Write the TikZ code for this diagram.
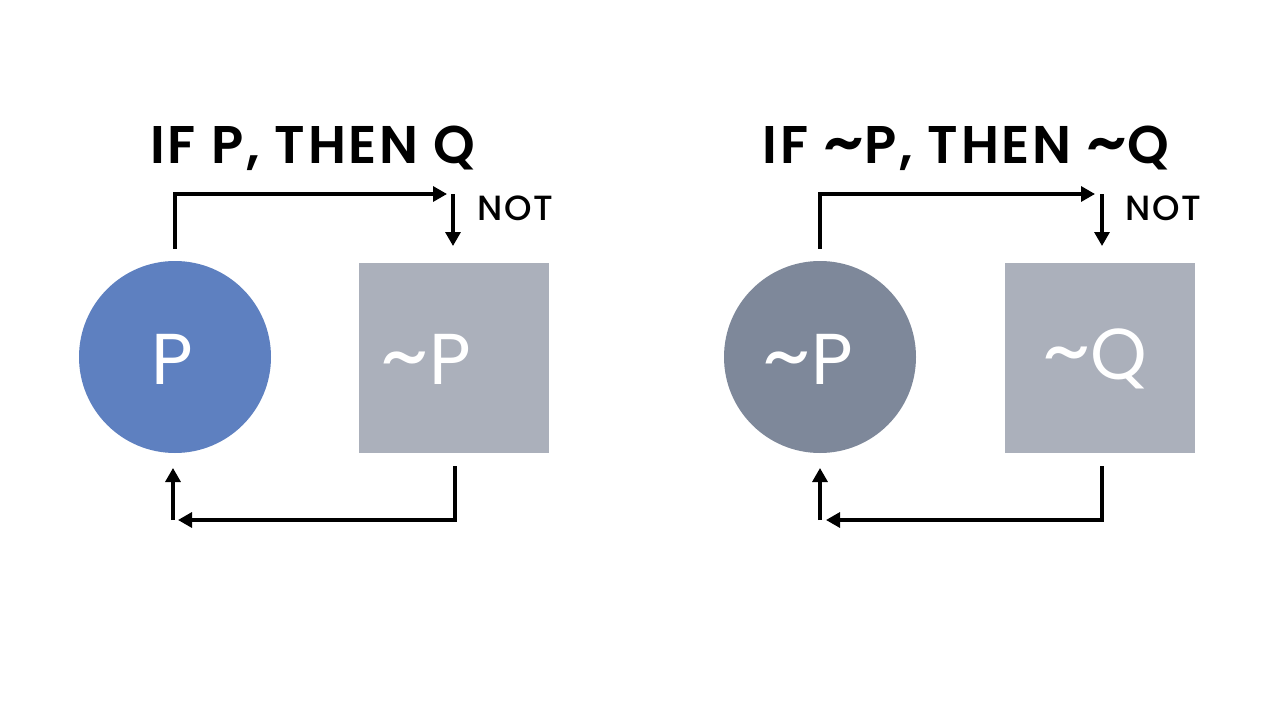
\documentclass[tikz,border=0pt]{standalone}
\usepackage{fontspec}
\usepackage{graphicx}
\setmainfont{Poppins}
\newfontfamily\titlefont{Poppins SemiBold}[LetterSpace=5]
\newfontfamily\notfont{Poppins Medium}[LetterSpace=4]
\usetikzlibrary{arrows.meta}
\definecolor{pblue}{RGB}{94,128,192}
\definecolor{pdark}{RGB}{126,136,154}
\definecolor{pbox}{RGB}{171,176,187}
\newcommand{\tld}{\scalebox{1.3}[1.15]{\textasciitilde}}
\begin{document}
\begin{tikzpicture}[x=1pt,y=-1pt,
  conn/.style={line width=3.2pt,-{Triangle[length=14pt,width=15pt]}},
  circ/.style={circle,inner sep=0pt,minimum size=192pt},
  sq/.style={rectangle,inner sep=0pt,minimum size=190pt,fill=pbox},
  lbl/.style={text=white,font=\fontsize{72}{80}\selectfont},
  ttl/.style={font=\titlefont\fontsize{53}{58}\selectfont},
  nottxt/.style={font=\notfont\fontsize{35}{40}\selectfont,anchor=west}]
\useasboundingbox (0,0) rectangle (1280,720);
\fill[white] (0,0) rectangle (1280,720);
% left
\node[ttl] (t1) at (313,148) {IF P, THEN Q};
\node[circ,fill=pblue] (c1) at (175,357) {};
\node[lbl] (l1) at (172,359) {P};
\node[sq] (s1) at (454,358) {};
\node[lbl] (l2) at (426,359) {\tld P};
\coordinate (b1) at (453,194);
\coordinate (b1e) at (453,246);
\draw[conn] (c1.north) ++(0,-12) |- ([xshift=-6pt]b1);
\draw[conn] (b1) -- (b1e);
\node[nottxt] (n1) at (474,208) {NOT};
\coordinate (e1) at (173,520);
\draw[conn] (s1.south) ++(1,13) |- ([xshift=5pt]e1);
\draw[conn] (e1) -- ++(0,-52);
% right
\node[ttl] (t2) at (966,148) {IF \tld P, THEN \tld Q};
\node[circ,fill=pdark] (c2) at (820,357) {};
\node[lbl] (l3) at (808,359) {\tld P};
\node[sq] (s2) at (1100,358) {};
\node[lbl] (l4) at (1095,359) {\tld Q};
\coordinate (b2) at (1102,194);
\coordinate (b2e) at (1102,246);
\draw[conn] (c2.north) ++(0,-12) |- ([xshift=-7pt]b2);
\draw[conn] (b2) -- (b2e);
\node[nottxt] (n2) at (1122,208) {NOT};
\coordinate (e2) at (820,520);
\draw[conn] (s2.south) ++(2,13) |- ([xshift=6pt]e2);
\draw[conn] (e2) -- ++(0,-52);
\end{tikzpicture}
\end{document}
